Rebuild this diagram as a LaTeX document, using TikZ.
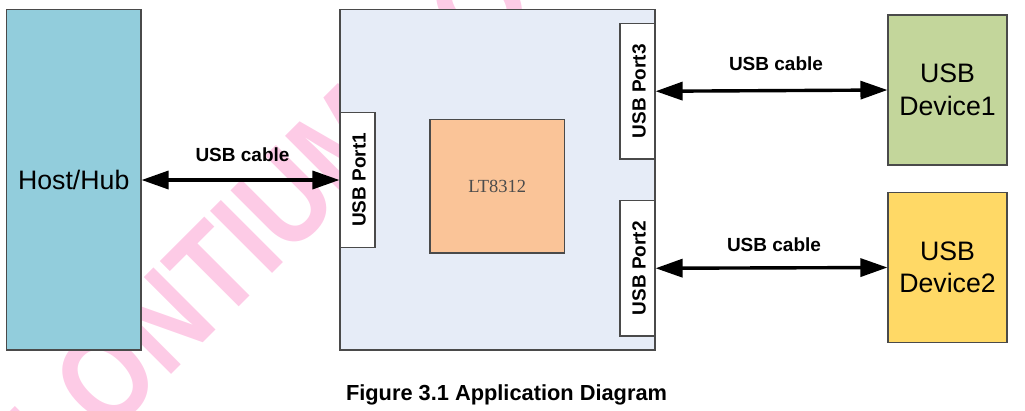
\documentclass[tikz,border=0pt]{standalone}
\usepackage{fontspec}
\setmainfont{Liberation Sans}
\newfontfamily\chipfont{Liberation Serif}
\usetikzlibrary{arrows.meta}
\definecolor{wmpink}{HTML}{FDCBE6}
\definecolor{hostblue}{HTML}{92CDDC}
\definecolor{boardblue}{HTML}{E6ECF7}
\definecolor{chiporange}{HTML}{FAC498}
\definecolor{devgreen}{HTML}{C3D69B}
\definecolor{devyellow}{HTML}{FFD966}
\definecolor{edgegray}{HTML}{4A4A4A}
\newcommand{\porttext}[1]{\hspace{3pt}\rotatebox{90}{#1}}
\tikzset{
	blockbox/.style={draw=edgegray, line width=1.1pt, inner sep=0pt, align=center, font=\fontsize{26.7}{32.5}\selectfont},
	portbox/.style={blockbox, fill=white, minimum width=35pt, minimum height=135.5pt, font=\fontsize{19}{22}\bfseries\selectfont},
	cablelabel/.style={font=\fontsize{19}{22}\bfseries\selectfont},
	cable/.style={{Triangle[length=27pt,width=18pt]}-{Triangle[length=27pt,width=18pt]}, line width=3.4pt}
}
\begin{document}
\begin{tikzpicture}[x=1pt,y=-1pt]
	\useasboundingbox (0,0) rectangle (1025,410);
	
	\begin{scope}
		\clip (0,0) rectangle (1025,410);
		\node[rotate=45, xscale=.93, yscale=1.11, anchor=west, inner sep=0pt, text=wmpink, font=\fontsize{115}{115}\bfseries\selectfont] (mark) at (30.2,453.6) {LONTIUM CONFIDENTIAL};
	\end{scope}
	
	\node[blockbox, fill=hostblue, minimum width=134.5pt, minimum height=340.5pt] (host) at (73.75,179.75) {Host/Hub};
	
	\node[blockbox, fill=boardblue, minimum width=315pt, minimum height=340.5pt] (board) at (497.5,179.75) {};
	\node[blockbox, fill=chiporange, minimum width=134.5pt, minimum height=133.5pt, text=black!70, font=\chipfont\fontsize{18.5}{22}\selectfont] (chip) at (497.25,186.25) {LT8312};
	
	\node[portbox] (port1) at (357.5,180) {\porttext{USB Port1}};
	\node[portbox] (port3) at (637.5,91.25) {\porttext{USB Port3}};
	\node[portbox] (port2) at (637.5,268.25) {\porttext{USB Port2}};
	
	\node[blockbox, fill=devgreen, minimum width=119pt, minimum height=150pt] (dev1) at (947.5,90) {USB\\Device1};
	\node[blockbox, fill=devyellow, minimum width=119pt, minimum height=150pt] (dev2) at (947.5,267.5) {USB\\Device2};
	
	\draw[cable] (host.east |- port1.west) -- (port1.west);
	\draw[cable] (port3.east) -- (dev1.west);
	\draw[cable] (port2.east) -- (dev2.west);
	
	\node[cablelabel] (lab1) at (242.5,154.5) {USB cable};
	\node[cablelabel] (lab3) at (776,63.5) {USB cable};
	\node[cablelabel] (lab2) at (774,244.5) {USB cable};
	
	\node[font=\fontsize{21.8}{26}\bfseries\selectfont] (caption) at (506.5,394.5) {Figure 3.1 Application Diagram};
\end{tikzpicture}
\end{document}
